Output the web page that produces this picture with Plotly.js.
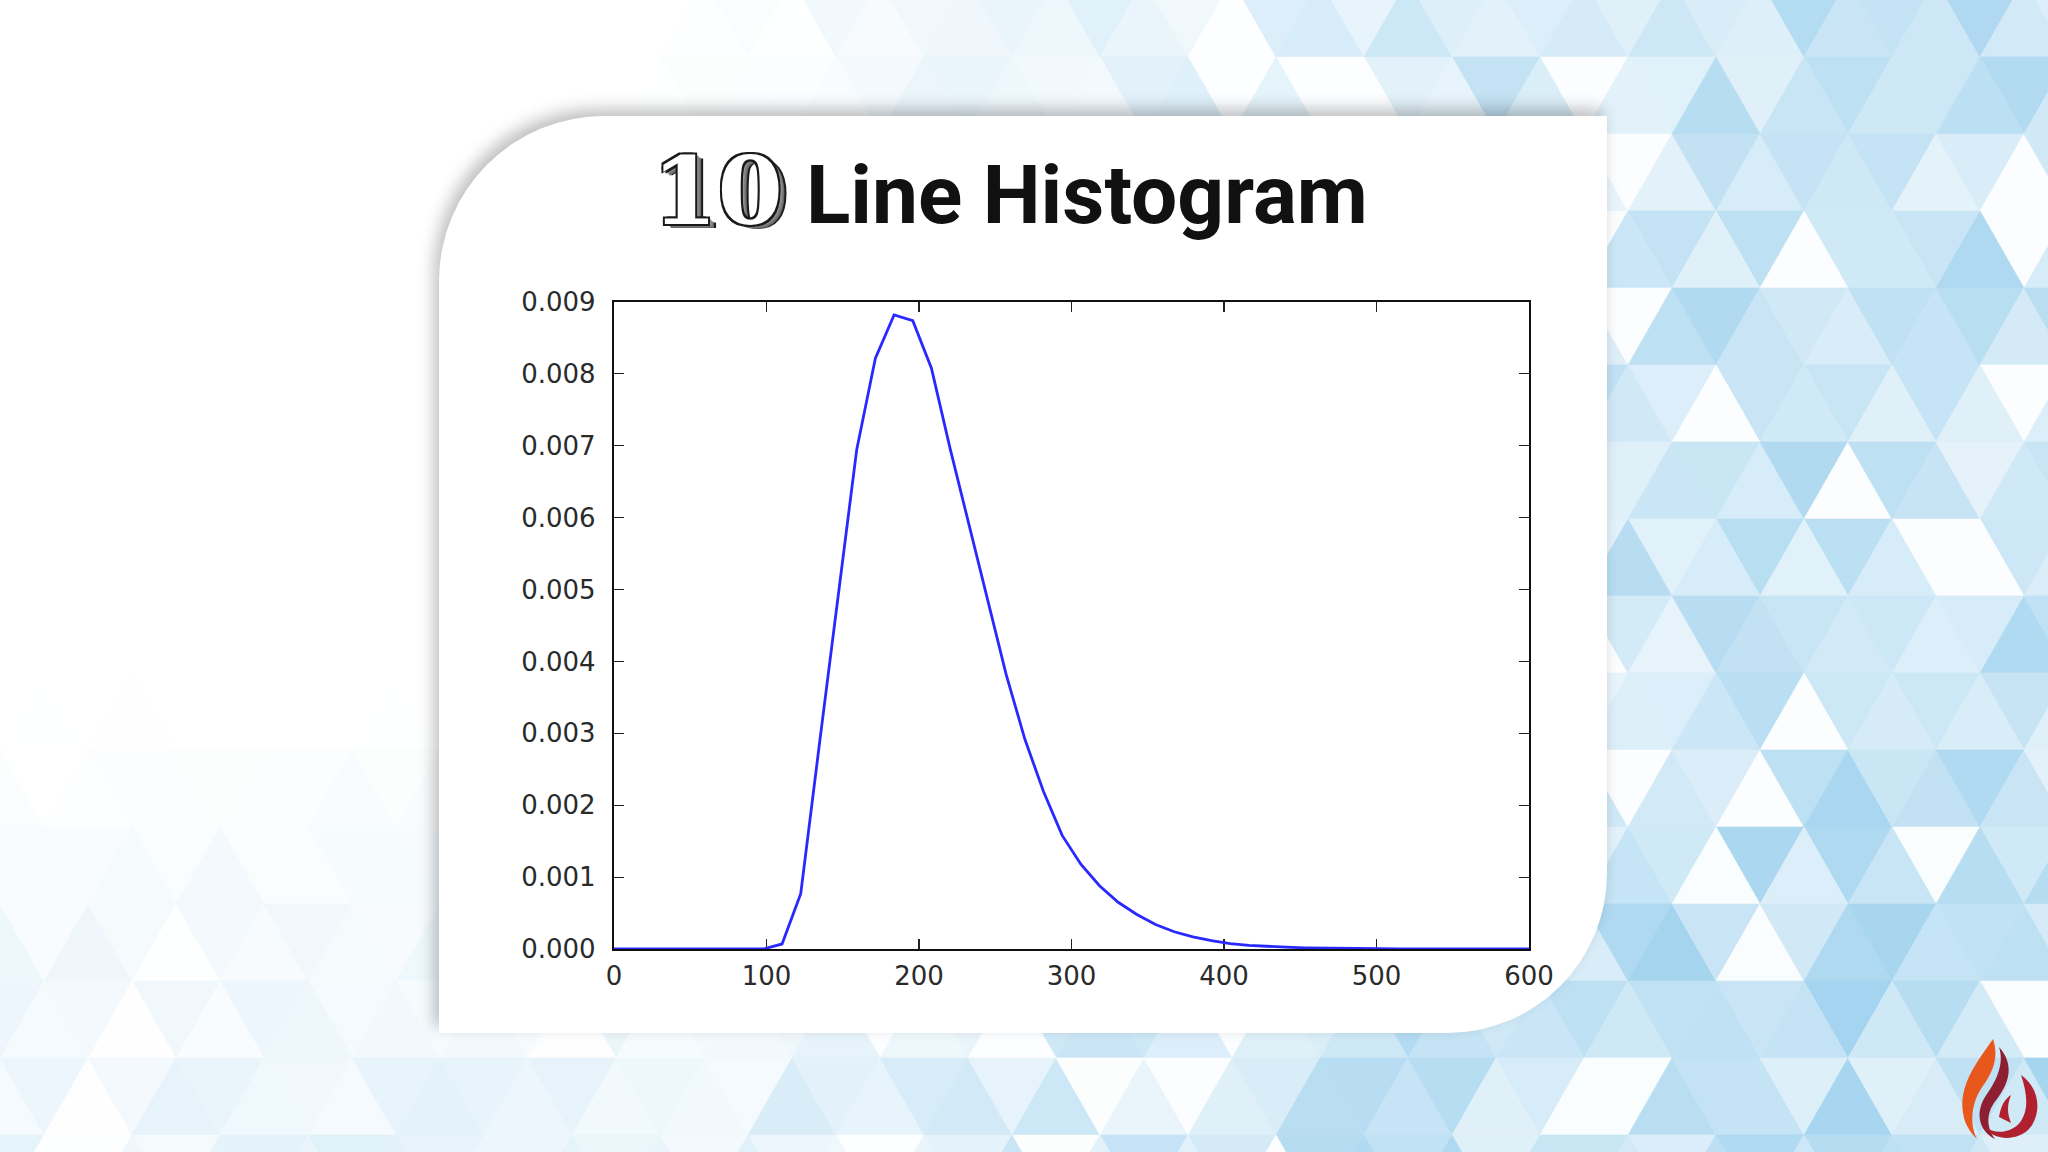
<!DOCTYPE html>
<html>
<head>
<meta charset="utf-8">
<script src="https://cdn.plot.ly/plotly-3.0.1.min.js"></script>
<style>
  html, body { margin: 0; padding: 0; width: 2048px; height: 1152px; overflow: hidden; background: #ffffff; }
  #bg { position: absolute; left: 0; top: 0; width: 2048px; height: 1152px; z-index: 0; }
  #card { position: absolute; left: 439px; top: 116px; width: 1168px; height: 917px; background: #ffffff;
          border-radius: 165px 0 160px 0; box-shadow: -5px -7px 16px rgba(0,0,0,0.25); z-index: 1; }
  #chart { position: absolute; left: 0; top: 0; width: 2048px; height: 1152px; z-index: 2; }
  #logo { position: absolute; left: 1955px; top: 1035px; width: 90px; height: 110px; z-index: 3; }
</style>
</head>
<body>
<svg id="bg" width="2048" height="1152" xmlns="http://www.w3.org/2000/svg"></svg>
<div id="card"></div>
<div id="chart"></div>
<svg id="logo" viewBox="0 0 90 110" xmlns="http://www.w3.org/2000/svg">
  <path d="M38 4 C 20 30, 4 50, 8 78 C 10 92, 18 100, 22 104 C 14 88, 16 66, 30 48 C 38 36, 44 22, 38 4 Z" fill="#e8581c"/>
  <path d="M44 12 C 50 30, 40 48, 30 62 C 20 78, 24 96, 40 104 C 30 90, 32 76, 42 64 C 54 48, 60 30, 44 12 Z" fill="#8e1f33"/>
  <path d="M66 40 C 84 52, 88 78, 74 94 C 60 108, 36 104, 30 92 C 40 100, 58 98, 66 86 C 74 74, 72 58, 66 40 Z" fill="#b0202e"/>
  <path d="M44 82 C 46 70, 50 64, 56 60 C 52 70, 52 78, 56 88 Z" fill="#b0202e"/>
</svg>
<script>
// ---------------- data ----------------
const binCenters = [0, 12.24, 24.49, 36.73, 48.98, 61.22, 73.47, 85.71, 97.96, 110.2,
  122.45, 134.69, 146.94, 159.18, 171.43, 183.67, 195.92, 208.16, 220.41, 232.65,
  244.9, 257.14, 269.39, 281.63, 293.88, 306.12, 318.37, 330.61, 342.86, 355.1,
  367.35, 379.59, 391.84, 404.08, 416.33, 428.57, 440.82, 453.06, 465.31, 477.55,
  489.8, 502.04, 514.29, 526.53, 538.78, 551.02, 563.27, 575.51, 587.76, 600];
const density = [0, 0, 0, 0, 0, 0, 0, 0, 0, 0.00007,
  0.00077, 0.00285, 0.00488, 0.00695, 0.00822, 0.00882, 0.00874, 0.00808, 0.00696, 0.00592,
  0.00484, 0.00382, 0.00292, 0.00219, 0.00158, 0.00118, 0.00088, 0.00065, 0.00048, 0.00034,
  0.00024, 0.00017, 0.000115, 0.000075, 0.00005, 0.000035, 0.000025, 0.000017, 0.000012, 0.000008,
  0.000006, 0.000004, 0.000003, 0.000002, 0.0000015, 0.000001, 0.0000007, 0.0000005, 0.0000003, 0.0000002];
const xTickVals = [0, 100, 200, 300, 400, 500, 600];
const yTickVals = [0, 0.001, 0.002, 0.003, 0.004, 0.005, 0.006, 0.007, 0.008, 0.009];
const titleNumber = "10";
const titleText = "Line Histogram";

// ---------------- decorative background: light-blue triangle mosaic ----------------
(function drawBackground() {
  const svg = document.getElementById('bg');
  const W = 88, H = 77;
  const tone = [160, 210, 238];
  function hash(a, b) {
    const s = Math.sin(a * 12.9898 + b * 78.233) * 43758.5453;
    return s - Math.floor(s);
  }
  function colorAt(cx, cy, a, b) {
    let fx = Math.min(1, Math.max(0, (cx - 650) / 1100));
    let fy = Math.min(1, Math.max(0, (cy - 700) / 450));
    let f = Math.min(1, fx * 0.85 + fy * 0.32);
    const h = hash(a, b);
    const r = h < 0.15 ? 0.05 : 0.2 + 0.8 * h;
    const k = f * r;
    const c = tone.map(t => Math.round(255 + (t - 255) * k));
    return 'rgb(' + c.join(',') + ')';
  }
  let out = '';
  for (let r = 0; r * H < 1152 + H; r++) {
    const y0 = r * H - 20, y1 = y0 + H;
    const off0 = (r % 2) * W / 2;
    for (let i = -2; i * W < 2048 + W; i++) {
      let tri1, tri2;
      if (off0 === 0) {
        tri1 = [[i * W, y0], [(i + 1) * W, y0], [W / 2 + i * W, y1]];
        tri2 = [[W / 2 + i * W, y1], [W / 2 + (i + 1) * W, y1], [(i + 1) * W, y0]];
      } else {
        tri1 = [[W / 2 + i * W, y0], [W / 2 + (i + 1) * W, y0], [(i + 1) * W, y1]];
        tri2 = [[i * W, y1], [(i + 1) * W, y1], [W / 2 + i * W, y0]];
      }
      [tri1, tri2].forEach((t, idx) => {
        const cx = (t[0][0] + t[1][0] + t[2][0]) / 3, cy = (t[0][1] + t[1][1] + t[2][1]) / 3;
        const col = colorAt(cx, cy, r * 3 + idx, i + 7);
        out += '<polygon points="' + t.map(p => p.join(',')).join(' ') + '" fill="' + col +
          '" stroke="' + col + '" stroke-width="0.6"/>';
      });
    }
  }
  svg.innerHTML = out;
})();

// ---------------- chart ----------------
const L = 614, R = 519, T = 302, B = 203;
const plotW = 2048 - L - R, plotH = 1152 - T - B;
function px2paperX(px) { return (px - L) / plotW; }
function px2paperY(py) { return (1152 - B - py) / plotH; }

const tickFont = { family: 'DejaVu Sans', size: 26, color: '#2a2a2a' };

const trace = {
  type: 'scatter',
  mode: 'lines',
  x: binCenters,
  y: density,
  line: { color: 'rgb(40,40,255)', width: 2.8 },
  hoverinfo: 'x+y'
};

const layout = {
  width: 2048,
  height: 1152,
  margin: { l: L, r: R, t: T, b: B, pad: 0 },
  paper_bgcolor: 'rgba(0,0,0,0)',
  plot_bgcolor: '#ffffff',
  showlegend: false,
  title: {
    text: titleText,
    font: { family: 'Roboto', size: 82, weight: 700, color: '#111111' },
    x: 806 / 2048,
    xanchor: 'left',
    xref: 'container',
    y: 1 - 194 / 1152,
    yanchor: 'middle',
    yref: 'container'
  },
  annotations: [{
    text: titleNumber,
    xref: 'paper', yref: 'paper',
    x: px2paperX(650), xanchor: 'left',
    y: px2paperY(191), yanchor: 'middle',
    showarrow: false,
    font: { family: 'DejaVu Serif', size: 94, weight: 700, color: '#ffffff',
            shadow: '-2px -2px 0 #1a1a1a, 2px -2px 0 #1a1a1a, -2px 2px 0 #1a1a1a, 2px 2px 0 #1a1a1a, 3px 1px 0 #999, 4px 2px 0 #888, 5px 3px 0 #777, 6px 4px 0 #666, 8px 4px 0 #1a1a1a' }
  }],
  xaxis: {
    range: [0, 600],
    tickmode: 'array',
    tickvals: xTickVals,
    ticktext: xTickVals.map(String),
    ticks: 'inside',
    ticklen: 10,
    tickwidth: 1.2,
    tickcolor: '#222',
    showline: true,
    linecolor: '#111',
    linewidth: 2.2,
    mirror: 'ticks',
    showgrid: false,
    zeroline: false,
    tickfont: tickFont,
    ticklabelstandoff: 3,
    layer: 'below traces'
  },
  yaxis: {
    range: [0, 0.009],
    tickmode: 'array',
    tickvals: yTickVals,
    ticktext: yTickVals.map(v => v.toFixed(3)),
    ticks: 'inside',
    ticklen: 10,
    tickwidth: 1.2,
    tickcolor: '#222',
    showline: true,
    linecolor: '#111',
    linewidth: 2.2,
    mirror: 'ticks',
    showgrid: false,
    zeroline: false,
    tickfont: tickFont,
    ticklabelstandoff: 11,
    layer: 'below traces'
  }
};

Plotly.newPlot('chart', [trace], layout, { displayModeBar: false, staticPlot: true });
</script>
</body>
</html>
